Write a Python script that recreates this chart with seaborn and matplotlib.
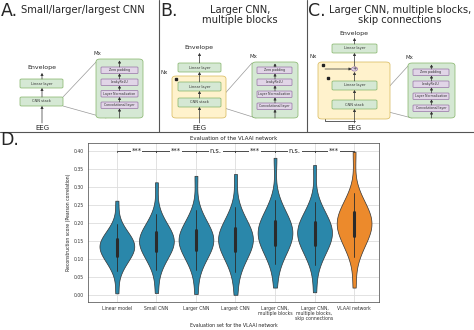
import matplotlib
matplotlib.use("Agg")
import matplotlib.pyplot as plt
from matplotlib.patches import FancyBboxPatch, Circle, Rectangle
import seaborn as sns
import pandas as pd

# ---------------- data ----------------
models = ["Linear model", "Small CNN", "Larger CNN", "Largest CNN",
          "Larger CNN,\nmultiple blocks", "Larger CNN,\nmultiple blocks,\nskip connections",
          "VLAAI network"]
# representative score quantiles (0%,5%,...,100%)
linear_model = [0.004, 0.065, 0.082, 0.094, 0.102, 0.108, 0.114, 0.120, 0.125, 0.130, 0.134,
                0.138, 0.142, 0.146, 0.150, 0.155, 0.161, 0.169, 0.180, 0.197, 0.261]
small_cnn = [0.005, 0.070, 0.090, 0.103, 0.113, 0.121, 0.128, 0.134, 0.139, 0.144, 0.148,
             0.153, 0.158, 0.163, 0.168, 0.174, 0.181, 0.190, 0.203, 0.225, 0.312]
larger_cnn = [0.002, 0.068, 0.090, 0.104, 0.115, 0.123, 0.130, 0.136, 0.142, 0.147, 0.152,
              0.157, 0.162, 0.168, 0.174, 0.180, 0.188, 0.198, 0.212, 0.236, 0.330]
largest_cnn = [0.000, 0.062, 0.086, 0.101, 0.113, 0.122, 0.129, 0.136, 0.142, 0.148, 0.153,
               0.159, 0.165, 0.171, 0.177, 0.184, 0.192, 0.203, 0.218, 0.243, 0.335]
larger_multi = [0.020, 0.085, 0.105, 0.119, 0.130, 0.139, 0.147, 0.154, 0.160, 0.166, 0.172,
                0.178, 0.184, 0.190, 0.197, 0.204, 0.212, 0.223, 0.238, 0.262, 0.380]
larger_skip = [0.007, 0.082, 0.104, 0.119, 0.130, 0.139, 0.147, 0.154, 0.160, 0.166, 0.171,
               0.177, 0.183, 0.189, 0.195, 0.202, 0.210, 0.220, 0.234, 0.257, 0.360]
vlaai = [0.020, 0.105, 0.127, 0.142, 0.154, 0.163, 0.171, 0.178, 0.185, 0.191, 0.197,
         0.203, 0.209, 0.215, 0.222, 0.229, 0.237, 0.247, 0.261, 0.283, 0.397]
series = [linear_model, small_cnn, larger_cnn, largest_cnn, larger_multi, larger_skip, vlaai]
significance = ["***", "***", "n.s.", "***", "n.s.", "***"]
y_ticks = [0.00, 0.05, 0.10, 0.15, 0.20, 0.25, 0.30, 0.35, 0.40]

rows = []
for m, vals in zip(models, series):
    for v in vals:
        rows.append({"model": m, "score": v})
df = pd.DataFrame(rows)

BLUE = "#2a87aa"
ORANGE = "#ec8a2c"
palette = {m: (ORANGE if m == "VLAAI network" else BLUE) for m in models}

W, H = 474, 330
fig = plt.figure(figsize=(W / 100, H / 100), dpi=100)
sns.set_style("whitegrid")
plt.rcParams['font.family'] = ['DejaVu Sans']

def fx(x):
    return x / W

def fy(y):
    return 1 - y / H

GREEN_F, GREEN_E = "#d5e8d4", "#82b366"
PURP_F, PURP_E = "#e1d5e7", "#9673a6"
YEL_F, YEL_E = "#fff2cc", "#d6b656"

def box(x0, y0, x1, y1, fc, ec, text=None, fs=2.6, r=1.5, lw=0.5):
    p = FancyBboxPatch((fx(x0), fy(y1)), fx(x1 - x0), (y1 - y0) / H,
                       boxstyle=f"round,pad=0,rounding_size={r / W}",
                       transform=fig.transFigure, fc=fc, ec=ec, lw=lw, zorder=2)
    fig.add_artist(p)
    if text:
        fig.text(fx((x0 + x1) / 2), fy((y0 + y1) / 2), text, ha="center", va="center",
                 fontsize=fs, color="#333333", zorder=3)

def arrow(x0, y0, x1, y1):
    fig.add_artist(matplotlib.patches.FancyArrowPatch(
        (fx(x0), fy(y0)), (fx(x1), fy(y1)), transform=fig.transFigure,
        arrowstyle="-|>,head_length=1.4,head_width=0.8", color="#333333", lw=0.5,
        shrinkA=0, shrinkB=0, zorder=4))

def line(xs, ys, color="#999999", lw=0.5):
    fig.add_artist(matplotlib.lines.Line2D([fx(x) for x in xs], [fy(y) for y in ys],
                                           transform=fig.transFigure, color=color, lw=lw, zorder=1))

def mx_block(x0, x1, y0, y1, px0, px1, ys):
    box(x0, y0, x1, y1, GREEN_F, GREEN_E, r=4)
    fig.text(fx(x0 - 3), fy(y0 - 4), "Mx", fontsize=4, color="#333333")
    labels = ["Zero padding", "LeakyReLU", "Layer Normalisation", "Convolutional layer"]
    cx = (x0 + x1) / 2
    arrow(cx, y1, cx, ys[3] + 6.5)
    for i, (yy, lab) in enumerate(zip(ys, labels)):
        box(px0, yy, px1, yy + 6.5, PURP_F, PURP_E, lab, fs=2.3, r=1)
        if i > 0:
            arrow(cx, yy, cx, ys[i - 1] + 6.5)
    arrow(cx, ys[0], cx, y0 + 1.5)

TITLE_FS = 7.2
LABEL_FS = 12.5

# separators
line([159, 159], [0, 132], color="#555555", lw=0.8)
line([307, 307], [0, 132], color="#555555", lw=0.8)
line([0, 474], [132, 132], color="#555555", lw=0.8)

# ---------- Panel A ----------
fig.text(fx(1), fy(11), "A.", fontsize=LABEL_FS, va="center", ha="left")
fig.text(fx(21), fy(10), "Small/larger/largest CNN", fontsize=TITLE_FS, va="center", ha="left")
fig.text(fx(42), fy(68), "Envelope", fontsize=4.5, ha="center", va="center")
box(20, 79, 63, 88, GREEN_F, GREEN_E, "Linear layer")
box(20, 97, 63, 106, GREEN_F, GREEN_E, "CNN stack")
arrow(42, 79, 42, 73)
arrow(42, 97, 42, 88)
arrow(42, 123, 42, 106)
fig.text(fx(42), fy(128), "EEG", fontsize=5, ha="center", va="center")
line([63, 97], [97, 61])
line([63, 106], [106, 118])
mx_block(96, 143, 59, 118, 101, 138, [67, 79, 90.5, 102])

# ---------- Panel B ----------
fig.text(fx(160), fy(11), "B.", fontsize=LABEL_FS, va="center", ha="left")
fig.text(fx(240), fy(15), "Larger CNN,\nmultiple blocks", fontsize=TITLE_FS, va="center",
         ha="center", linespacing=0.95)
fig.text(fx(199), fy(48), "Envelope", fontsize=4.5, ha="center", va="center")
box(172, 76, 226, 118, YEL_F, YEL_E, r=4)
fig.text(fx(164), fy(72), "Nx", fontsize=4, ha="center", va="center", color="#333333")
fig.add_artist(Rectangle((fx(175), fy(79.5)), 2 / W, 2 / H, transform=fig.transFigure,
                         color="#222222", zorder=5))
box(178, 63, 221, 72, GREEN_F, GREEN_E, "Linear layer")
box(178, 82, 221, 91, GREEN_F, GREEN_E, "Linear layer")
box(178, 98, 221, 107, GREEN_F, GREEN_E, "CNN stack")
arrow(199.5, 63, 199.5, 53)
arrow(199.5, 82, 199.5, 72)
arrow(199.5, 98, 199.5, 91)
arrow(199.5, 123, 199.5, 107)
fig.text(fx(199.5), fy(128), "EEG", fontsize=5, ha="center", va="center")
line([221, 252], [98, 63])
line([221, 256], [107, 118])
mx_block(252, 298, 62, 118, 257, 292, [67, 79, 91, 103])

# ---------- Panel C ----------
fig.text(fx(308), fy(11), "C.", fontsize=LABEL_FS, va="center", ha="left")
fig.text(fx(400), fy(15), "Larger CNN, multiple blocks,\nskip connections", fontsize=TITLE_FS,
         va="center", ha="center", linespacing=0.95)
fig.text(fx(354), fy(34), "Envelope", fontsize=4.5, ha="center", va="center")
box(318, 62, 390, 119, YEL_F, YEL_E, r=4)
fig.text(fx(313), fy(57), "Nx", fontsize=4, ha="center", va="center", color="#333333")
box(332, 44, 377, 53, GREEN_F, GREEN_E, "Linear layer")
box(332, 81, 377, 90, GREEN_F, GREEN_E, "Linear layer")
box(332, 100, 377, 109, GREEN_F, GREEN_E, "CNN stack")
for (sx, sy) in [(323, 65), (328, 78)]:
    fig.add_artist(Rectangle((fx(sx - 1), fy(sy + 1)), 2 / W, 2 / H, transform=fig.transFigure,
                             color="#222222", zorder=5))
fig.add_artist(Circle((fx(354.5), fy(69)), 3 / W, transform=fig.transFigure,
                      fc=PURP_F, ec=PURP_E, lw=0.5, zorder=4))
fig.text(fx(354.5), fy(69), "+", fontsize=3.5, ha="center", va="center", zorder=5)
arrow(354.5, 44, 354.5, 38)
arrow(354.5, 66, 354.5, 53)
arrow(354.5, 81, 354.5, 72)
arrow(354.5, 100, 354.5, 90)
arrow(354.5, 123, 354.5, 109)
line([354.5, 325, 325], [121, 121, 69], color="#444444", lw=0.6)
arrow(325, 69, 351.5, 69)
fig.text(fx(354.5), fy(128), "EEG", fontsize=5, ha="center", va="center")
line([377, 408], [100, 66])
line([377, 412], [109, 118])
mx_block(408, 455, 63, 118, 413, 449, [69, 81, 93, 105])

# ---------- Panel D ----------
fig.text(fx(0), fy(140), "D.", fontsize=LABEL_FS, va="center", ha="left")
ax = fig.add_axes([88 / W, 1 - 302 / H, (379 - 88) / W, (302 - 143) / H])
sns.violinplot(data=df, x="model", y="score", hue="model", palette=palette, legend=False,
               order=models, hue_order=models, cut=0, density_norm="width", width=0.88,
               inner="box", inner_kws={"box_width": 2.2, "whis_width": 0.6, "color": "#2b2b2b",
                                       "marker": None},
               linewidth=0.5, linecolor="#333333", saturation=1, ax=ax)
ax.set_xlim(-0.73, 6.63)
ax.set_ylim(-0.02, 0.421)
ax.set_yticks(y_ticks)
ax.set_yticklabels([f"{t:.2f}" for t in y_ticks])
ax.tick_params(axis="both", labelsize=3.3, length=1.5, width=0.4, pad=1.2, colors="#333333")
for t in ax.get_xticklabels():
    t.set_linespacing(1.0)
ax.grid(True, color="#dddddd", lw=0.6)
ax.xaxis.grid(True)
ax.set_axisbelow(True)
for s in ax.spines.values():
    s.set_color("#444444")
    s.set_linewidth(0.5)
ax.set_title("Evaluation of the VLAAI network", fontsize=3.9, pad=2.5, color="#222222")
ax.set_xlabel("Evaluation set for the VLAAI network", fontsize=3.4, labelpad=1.5, color="#222222")
ax.set_ylabel("Reconstruction score (Pearson correlation)", fontsize=3.3, labelpad=2,
              color="#222222")
for i, lab in enumerate(significance):
    ax.plot([i, i, i + 1, i + 1], [0.396, 0.400, 0.400, 0.396], color="#333333", lw=0.6)
    ax.text(i + 0.5, 0.400, lab, ha="center", va="center", fontsize=4.8, color="#222222",
            bbox=dict(fc="white", ec="none", pad=0.6))

fig.savefig("out.png", dpi=100)
